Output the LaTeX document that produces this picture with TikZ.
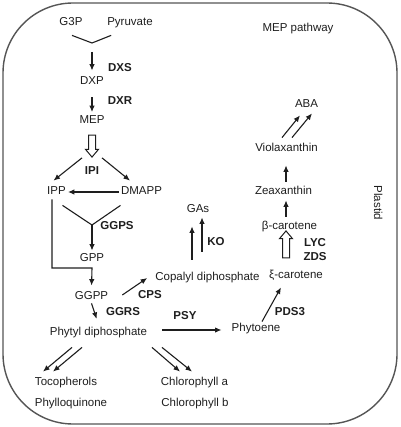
\documentclass[tikz,border=0pt]{standalone}
\usepackage{fontspec}
\setmainfont{Liberation Sans}
\usetikzlibrary{arrows.meta,calc,shapes.arrows}
\definecolor{ink}{HTML}{1E1E1E}
\definecolor{rim}{HTML}{555555}
\tikzset{
    lbl/.style={text=ink, inner sep=2pt, text height=8.2pt, text depth=2.2pt, font=\fontsize{11.5}{13.8}\selectfont},
    enz/.style={lbl, font=\fontsize{11.5}{13.8}\selectfont\bfseries},
    arr/.style={draw=ink, line width=1.1pt, -{Latex[length=6.5pt,width=5.5pt]}},
    link/.style={draw=ink, line width=1.1pt},
    hollow/.style={single arrow, draw=ink, line width=1pt, inner sep=3pt, minimum width=12pt, single arrow head extend=3pt, single arrow tip angle=80},
}

\begin{document}
\begin{tikzpicture}[x=1pt, y=-1pt]
    \useasboundingbox (0,0) rectangle (400,427);
    \draw[rim, line width=1.4pt, rounded corners=70pt] (3,3) rectangle (397,424);

    \node[lbl] (g3p) at (71,23){G3P};
    \node[lbl] (pyr) at (130,23){Pyruvate};
    \node[lbl] (mepway) at (298,29){MEP pathway};
    \node[lbl, rotate=-90] (plastid) at (377,203){Plastid};
    \coordinate (v1) at (92,43);
    \node[lbl] (dxp) at (92,82){DXP};
    \node[enz] (dxs) at (120,69){DXS};
    \node[lbl] (mep) at (92,121){MEP};
    \node[enz] (dxr) at (120,102){DXR};
    \node[hollow, rotate=-90, minimum height=22pt] (h1) at (92,144){};
    \node[enz] (ipi) at (92,172){IPI};
    \node[lbl] (ipp) at (56.5,192){IPP};
    \node[lbl] (dmapp) at (141.5,192){DMAPP};
    \coordinate (v2) at (92,225);
    \node[enz] (ggps) at (117,226){GGPS};
    \node[lbl] (gpp) at (92,258){GPP};
    \coordinate (k1) at (92,268);
    \node[lbl] (ggpp) at (91.5,296){GGPP};
    \node[enz] (cps) at (150,295){CPS};
    \node[enz] (ggrs) at (123,312){GGRS};
    \node[lbl] (phytyl) at (98.5,332){Phytyl diphosphate};
    \node[lbl] (copalyl) at (207.5,277){Copalyl diphosphate};
    \node[lbl] (gas) at (198,209){GAs};
    \node[enz] (ko) at (216,242){KO};
    \node[enz] (psy) at (185,316){PSY};
    \node[lbl] (phytoene) at (256,328){Phytoene};
    \node[enz] (pds) at (290,312){PDS3};
    \node[lbl] (xi) at (296,275){ξ-carotene};
    \node[hollow, rotate=90, minimum height=27pt] (h2) at (286,246.5){};
    \node[enz] (lyc) at (315,243){LYC};
    \node[enz] (zds) at (315,257){ZDS};
    \node[lbl] (beta) at (289.5,226){β-carotene};
    \node[lbl] (zeax) at (283.5,192){Zeaxanthin};
    \node[lbl] (violax) at (286.5,149){Violaxanthin};
    \node[lbl] (aba) at (306.5,105){ABA};
    \node[lbl] (toco) at (66,382){Tocopherols};
    \node[lbl] (phyllo) at (71,403){Phylloquinone};
    \node[lbl] (chla) at (194.5,382){Chlorophyll a};
    \node[lbl] (chlb) at (195,403){Chlorophyll b};

    \draw[link] ($(g3p.south)+(1,5)$) -- (v1) -- ($(pyr.south west)+(6,5)$);
    \draw[arr, shorten >=4pt] ($(v1)+(0,9)$) -- (dxp.north);
    \draw[arr, shorten <=8pt, shorten >=1.5pt] (dxp.south) -- (mep.north);
    \draw[arr] ($(h1.tip)+(-10,0)$) -- ($(ipp.north)+(-3,-4)$);
    \draw[arr] ($(h1.tip)+(10,0)$) -- ($(dmapp.north)+(-11.5,-4)$);
    \draw[arr, {Latex[length=6.5pt,width=5.5pt]}-] (ipp.east) -- (dmapp.west);
    \draw[link] ($(ipp.south)+(6,6)$) -- (v2) -- ($(dmapp.south)+(-21,6)$);
    \draw[arr] (v2) -- (gpp.north);
    \draw[arr, shorten >=3pt] ($(ipp.south)+(-4.5,0)$) |- (k1) -- (ggpp.north);
    \draw[arr, shorten >=6pt] (ggpp.south) -- (phytyl.north);
    \draw[arr] ($(ggpp.east)+(12,-1)$) -- ($(copalyl.west)+(-6,1)$);
    \draw[arr] ($(copalyl.north)+(-15.5,-10)$) -- ($(gas.south)+(-6,10)$);
    \draw[arr] ($(copalyl.north)+(-5.5,-18)$) -- ($(gas.south)+(4,1)$);
    \draw[arr] ($(phytyl.east)+(13,-2)$) -- ($(phytyl.east -| phytoene.west)+(-8,-2)$);
    \draw[arr] ($(phytoene.north)+(6,1)$) -- ($(xi.south)+(-15,5)$);
    \draw[arr, shorten <=2pt, shorten >=1pt] (beta.north -| h2.tip) -- (zeax.south -| h2.tip);
    \draw[arr, shorten <=3pt, shorten >=9pt] (zeax.north -| h2.tip) -- (violax.south -| h2.tip);
    \draw[arr] ($(violax.north)+(-4.5,-4)$) -- ($(aba.south)+(-6.5,3)$);
    \draw[arr] ($(violax.north)+(5.5,-4)$) -- ($(aba.south)+(5.5,1)$);
    \draw[arr] ($(phytyl.south)+(-26.5,8)$) -- ($(toco.north)+(-23,-3)$);
    \draw[arr] ($(phytyl.south)+(-16.5,8)$) -- ($(toco.north)+(-13,-3)$);
    \draw[arr] ($(phytyl.south)+(53.5,8)$) -- ($(chla.north)+(-14.5,-3)$);
    \draw[arr] ($(phytyl.south)+(63.5,8)$) -- ($(chla.north)+(-2.5,-3)$);
\end{tikzpicture}
\end{document}
